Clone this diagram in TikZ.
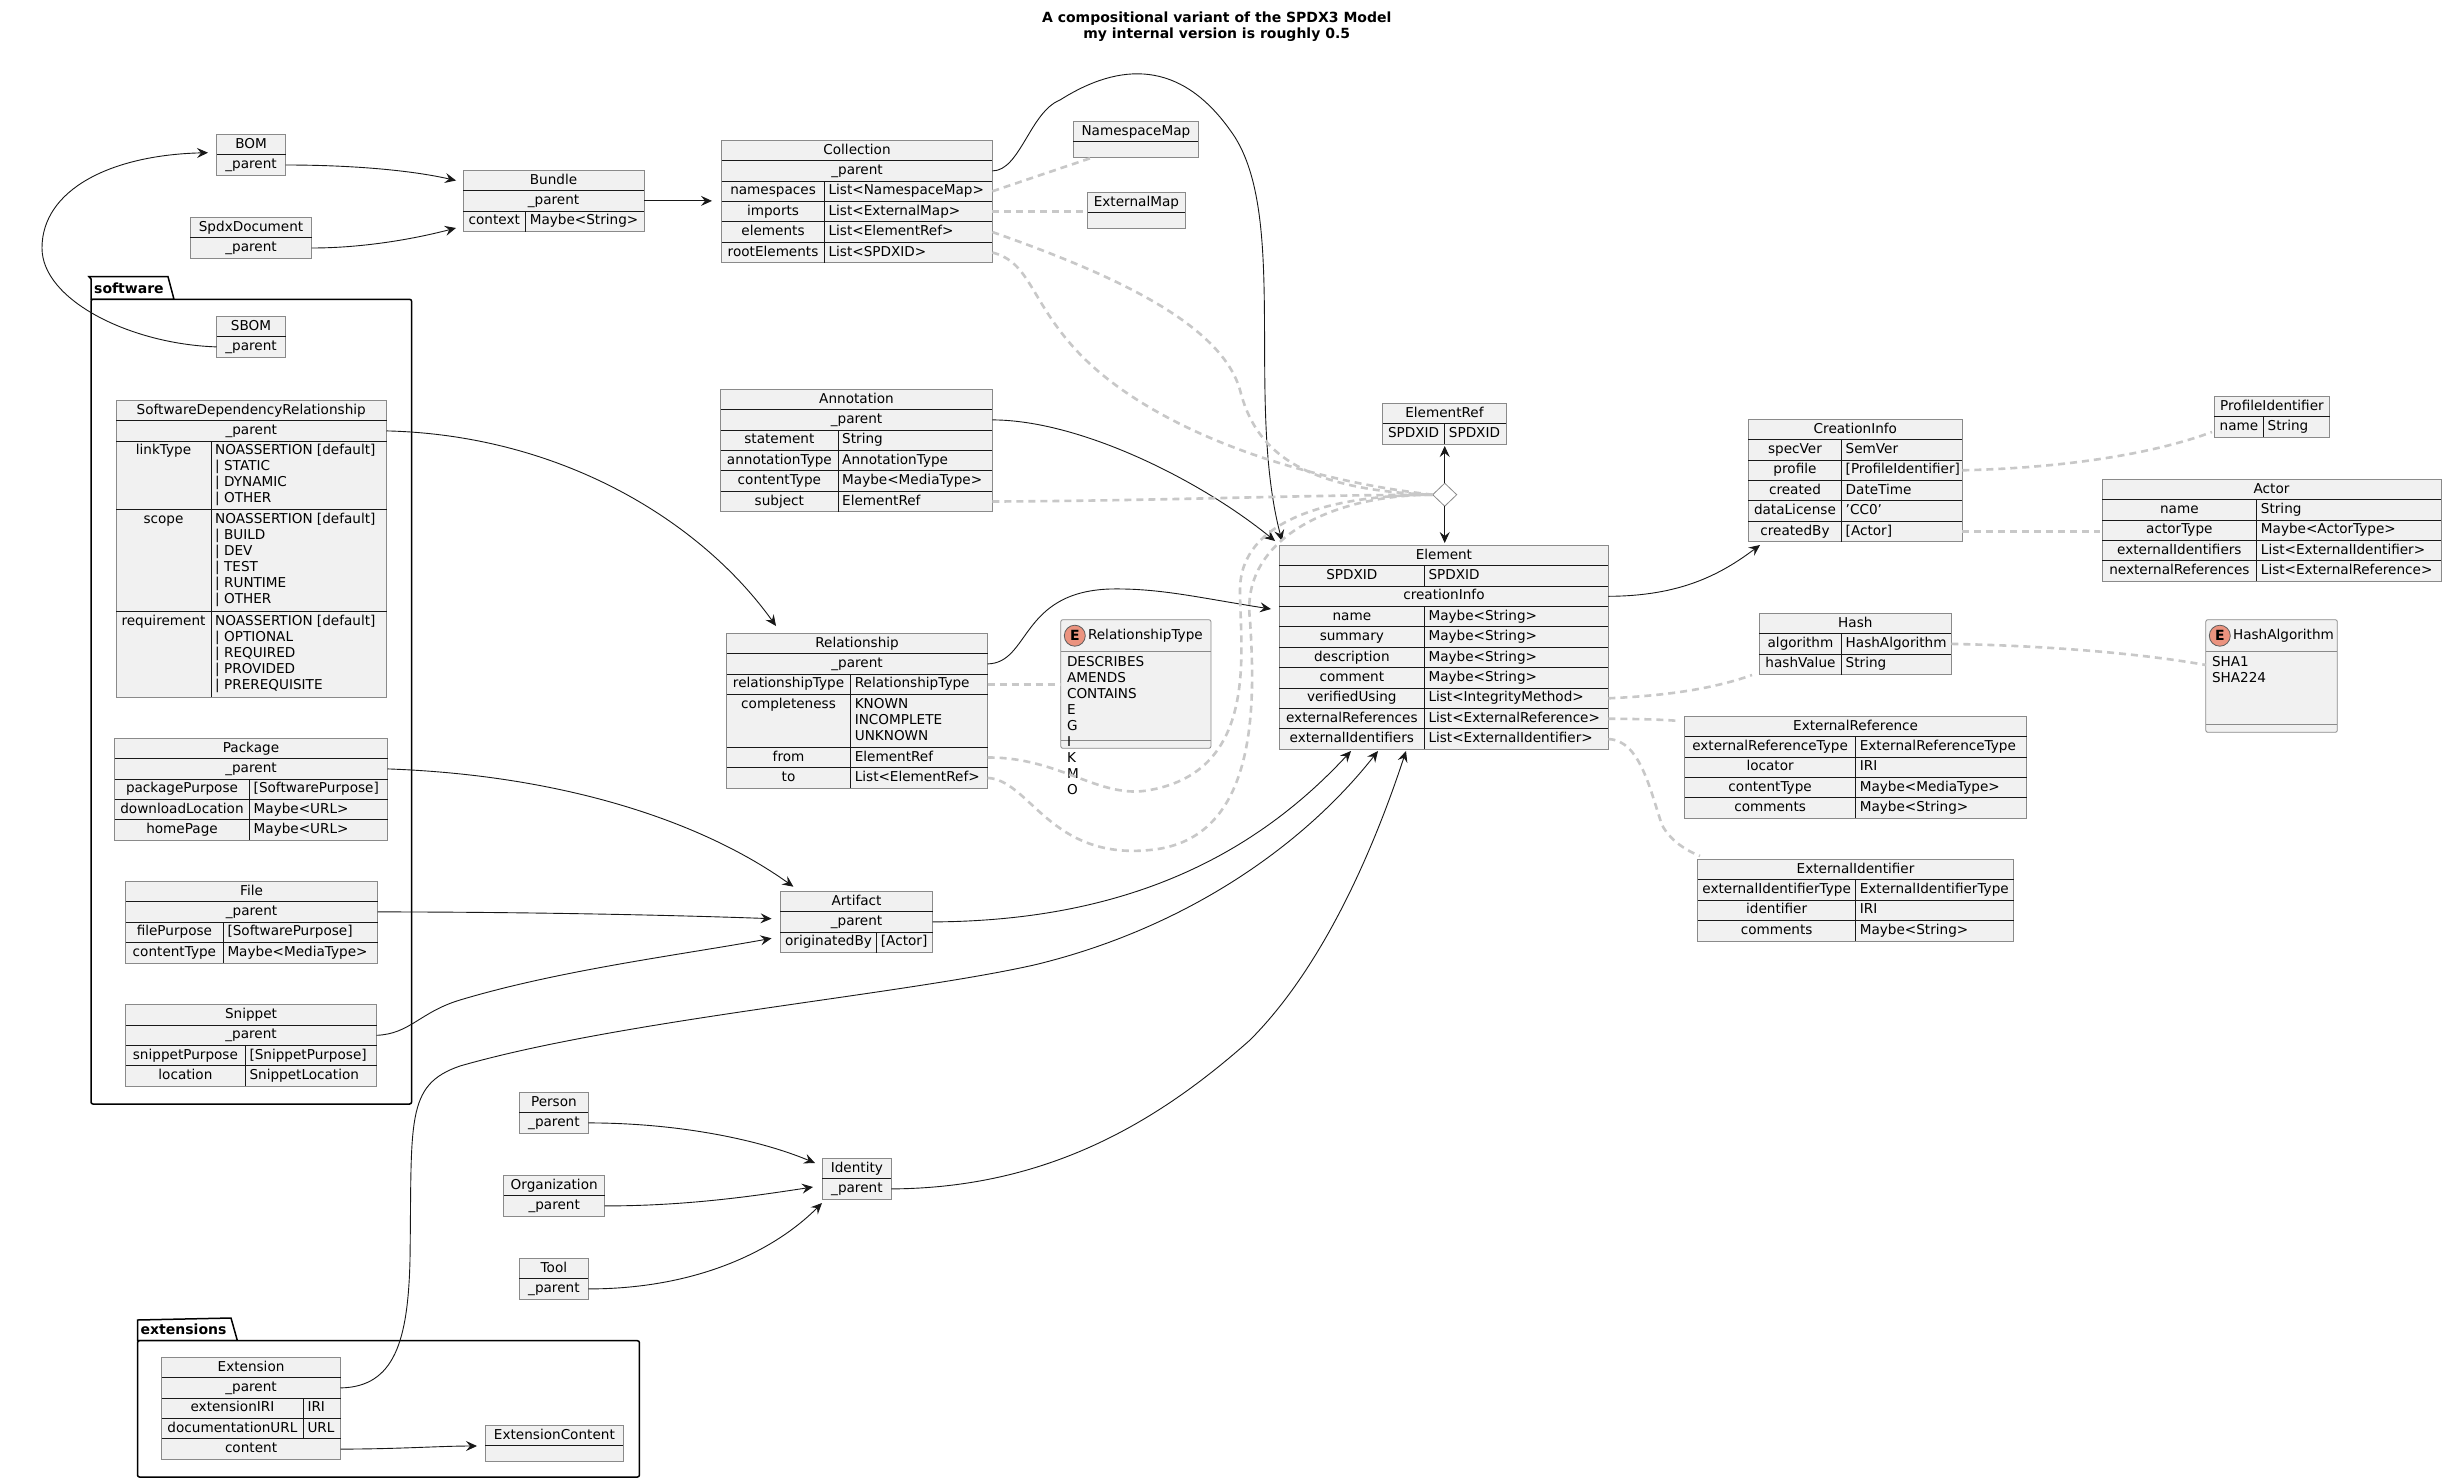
\documentclass[tikz,border=0pt]{standalone}
\usepackage{fontspec}
\setmainfont{DejaVu Sans}
\usetikzlibrary{arrows.meta,calc}
\definecolor{boxfill}{HTML}{F1F1F1}
\definecolor{bordergray}{HTML}{8A8A8A}
\definecolor{sepc}{HTML}{181818}
\definecolor{linec}{HTML}{181818}
\definecolor{depc}{HTML}{C8C8C8}
\definecolor{enumc}{HTML}{EB937F}
\newcommand\fs{\fontsize{13.6}{16}\selectfont}
\def\RH{20.4}
\tikzset{
 box/.style={draw=bordergray, fill=boxfill, line width=0.8pt, inner sep=0pt, outer sep=0pt, anchor=north west},
 sep/.style={draw=sepc, line width=0.9pt},
 txt/.style={inner sep=0pt, font=\fs, text=black, text height=10pt, text depth=3pt},
 conn/.style={draw=linec, line width=0.9pt, -{Stealth[length=11pt,width=10pt,inset=4pt]}},
 dep/.style={draw=depc, line width=2.6pt, dash pattern=on 7pt off 5pt},
 pkg/.style={draw=black, line width=1.5pt, fill=white},
}
% class box with title: name x1 y1 x2 height title
\newcommand\cls[6]{%
 \node[box, minimum width={(#4-#2)*1pt}, minimum height={#5*1pt}] (#1) at (#2,#3) {};
 \node[txt] at ({(#2+#4)/2},{#3+\RH/2}) {#6};}
% spanning row: x1 x2 ytop text
\newcommand\prow[4]{\draw[sep] (#1,#3) -- (#2,#3);
 \node[txt] at ({(#1+#2)/2},{#3+\RH/2}) {#4};}
% two-column row: x1 xd x2 ytop left right
\newcommand\frow[6]{\draw[sep] (#1,#4) -- (#3,#4); \draw[sep] (#2,#4) -- (#2,{#4+\RH});
 \node[txt] at ({(#1+#2)/2},{#4+\RH/2}) {#5};
 \node[txt,anchor=west] at ({#2+4},{#4+\RH/2}) {#6};}
% multi-line row: x1 xd x2 ytop ybottom left {lines}
\newcommand\mrow[7]{\draw[sep] (#1,#4) -- (#3,#4); \draw[sep] (#2,#4) -- (#2,#5);
 \node[txt] at ({(#1+#2)/2},{#4+10.3}) {#6};
 \foreach \t [count=\i from 0] in {#7} {\node[txt,anchor=west] at ({#2+4},{#4+10.3+16*\i}) {\t};}}
% enum: name x1 y1 x2 y2 title {items} ylast
\newcommand\enm[8]{%
 \node[box, rounded corners=2pt, minimum width={(#4-#2)*1pt}, minimum height={(#5-#3)*1pt}] (#1) at (#2,#3) {};
 \draw[draw=sepc!70, fill=enumc, line width=0.8pt] ({#2+14},{#3+16}) circle (10.5pt);
 \node[inner sep=0pt, font=\fontsize{14}{16}\bfseries\selectfont] at ({#2+14},{#3+16}) {E};
 \node[txt,anchor=west] at ({#2+27},{#3+16}) {#6};
 \draw[draw=bordergray, line width=0.8pt] (#2,{#3+31.6}) -- (#4,{#3+31.6});
 \draw[draw=bordergray, line width=0.8pt] (#2,#8) -- (#4,#8);
 \foreach \t [count=\i from 0] in {#7} {\node[txt,anchor=west] at ({#2+6},{#3+43.6+16*\i}) {\t};}}
\begin{document}
\begin{tikzpicture}[x=1pt,y=-1pt]
\useasboundingbox (0,0) rectangle (2446,1483);
\fill[white] (0,0) rectangle (2446,1483);
\node[inner sep=0pt, font=\fontsize{14}{16}\bfseries\selectfont] (t1) at (1216.7,18.3) {A compositional variant of the SPDX3 Model};
\node[inner sep=0pt, font=\fontsize{14}{16}\bfseries\selectfont] (t2) at (1216.7,34.3) {my internal version is roughly 0.5};

% packages
\draw[pkg] (91,299.3) -- (91,279) -- ([xshift=-2pt]91,276.7) -- (168,276.7) -- (174,299.3) -- cycle;
\draw[pkg, rounded corners=2pt] (91,299.3) rectangle (411.6,1104);
\node[inner sep=0pt, anchor=west, font=\fontsize{14}{16}\bfseries\selectfont] (pkgsw) at (94,288.5) {software};
\draw[pkg] (137.5,1340.7) -- (137.5,1320) -- (231,1318) -- (237.4,1340.7) -- cycle;
\draw[pkg, rounded corners=2pt] (137.5,1340.7) rectangle (639.4,1477);
\node[inner sep=0pt, anchor=west, font=\fontsize{14}{16}\bfseries\selectfont] (pkgext) at (140.5,1329.5) {extensions};

% classes
\cls{bom}{216.5}{134.3}{285.6}{40.8}{BOM}\prow{216.5}{285.6}{154.7}{\_parent}
\cls{spdx}{190.4}{217.3}{311.7}{40.8}{SpdxDocument}\prow{190.4}{311.7}{237.7}{\_parent}
\cls{bundle}{463}{170.3}{644}{61.2}{Bundle}\prow{463}{644}{190.7}{\_parent}\frow{463}{525.6}{644}{211.1}{context}{Maybe<String>}
\cls{coll}{721.7}{140.3}{992.3}{122.4}{Collection}\prow{721.7}{992.3}{160.7}{\_parent}
\frow{721.7}{824.4}{992.3}{181.1}{namespaces}{List<NamespaceMap>}
\frow{721.7}{824.4}{992.3}{201.5}{imports}{List<ExternalMap>}
\frow{721.7}{824.4}{992.3}{221.9}{elements}{List<ElementRef>}
\frow{721.7}{824.4}{992.3}{242.3}{rootElements}{List<SPDXID>}
\cls{nsmap}{1073.4}{121.3}{1198.4}{36}{NamespaceMap}\draw[sep] (1073.4,141.7) -- (1198.4,141.7);
\cls{extmap}{1087.5}{192.3}{1185.3}{36}{ExternalMap}\draw[sep] (1087.5,212.7) -- (1185.3,212.7);
\cls{annot}{720.7}{389.3}{992.3}{122.4}{Annotation}\prow{720.7}{992.3}{409.7}{\_parent}
\frow{720.7}{838}{992.3}{430.1}{statement}{String}
\frow{720.7}{838}{992.3}{450.5}{annotationType}{AnnotationType}
\frow{720.7}{838}{992.3}{470.9}{contentType}{Maybe<MediaType>}
\frow{720.7}{838}{992.3}{491.3}{subject}{ElementRef}
\cls{eref}{1382.5}{403.3}{1506.4}{40.8}{ElementRef}\frow{1382.5}{1444.7}{1506.4}{423.7}{SPDXID}{SPDXID}
\node[draw=bordergray, fill=white, line width=0.8pt, shape=coordinate] (dia) at (1444.7,494.7) {};
\draw[draw=bordergray, fill=white, line width=0.8pt] (1432.7,494.7) -- (1444.7,483.2) -- (1456.7,494.7) -- (1444.7,506.2) -- cycle;
\coordinate (diaT) at (1444.7,483.2); \coordinate (diaB) at (1444.7,506.2); \coordinate (diaL) at (1432.7,494.7);
\cls{elem}{1279.4}{545.3}{1608.4}{204}{Element}
\frow{1279.4}{1424.3}{1608.4}{565.7}{SPDXID}{SPDXID}
\prow{1279.4}{1608.4}{586.1}{creationInfo}
\frow{1279.4}{1424.3}{1608.4}{606.5}{name}{Maybe<String>}
\frow{1279.4}{1424.3}{1608.4}{626.9}{summary}{Maybe<String>}
\frow{1279.4}{1424.3}{1608.4}{647.3}{description}{Maybe<String>}
\frow{1279.4}{1424.3}{1608.4}{667.7}{comment}{Maybe<String>}
\frow{1279.4}{1424.3}{1608.4}{688.1}{verifiedUsing}{List<IntegrityMethod>}
\frow{1279.4}{1424.3}{1608.4}{708.5}{externalReferences}{List<ExternalReference>}
\frow{1279.4}{1424.3}{1608.4}{728.9}{externalIdentifiers}{List<ExternalIdentifier>}
\cls{cinfo}{1748.4}{419.3}{1962.3}{122.4}{CreationInfo}
\frow{1748.4}{1841.5}{1962.3}{439.7}{specVer}{SemVer}
\frow{1748.4}{1841.5}{1962.3}{460.1}{profile}{[ProfileIdentifier]}
\frow{1748.4}{1841.5}{1962.3}{480.5}{created}{DateTime}
\frow{1748.4}{1841.5}{1962.3}{500.9}{dataLicense}{'CC0'}
\frow{1748.4}{1841.5}{1962.3}{521.3}{createdBy}{[Actor]}
\cls{profid}{2214.4}{396.3}{2329.5}{40.8}{ProfileIdentifier}\frow{2214.4}{2263.5}{2329.5}{416.7}{name}{String}
\cls{actor}{2102}{479.3}{2441}{102}{Actor}
\frow{2102}{2256.7}{2441}{499.7}{name}{String}
\frow{2102}{2256.7}{2441}{520.1}{actorType}{Maybe<ActorType>}
\frow{2102}{2256.7}{2441}{540.5}{externalIdentifiers}{List<ExternalIdentifier>}
\frow{2102}{2256.7}{2441}{560.9}{nexternalReferences}{List<ExternalReference>}
\cls{hash}{1759.4}{613.3}{1951.3}{61.2}{Hash}
\frow{1759.4}{1841.5}{1951.3}{633.7}{algorithm}{HashAlgorithm}
\frow{1759.4}{1841.5}{1951.3}{654.1}{hashValue}{String}
\enm{halg}{2205.8}{619.7}{2337.3}{732.3}{HashAlgorithm}{SHA1,SHA224,...,BLAKE3}{724}
\cls{extref}{1684.6}{716.3}{2026.6}{102}{ExternalReference}
\frow{1684.6}{1855.6}{2026.6}{736.7}{externalReferenceType}{ExternalReferenceType}
\frow{1684.6}{1855.6}{2026.6}{757.1}{locator}{IRI}
\frow{1684.6}{1855.6}{2026.6}{777.5}{contentType}{Maybe<MediaType>}
\frow{1684.6}{1855.6}{2026.6}{797.9}{comments}{Maybe<String>}
\cls{extid}{1697.6}{859.3}{2013.5}{81.6}{ExternalIdentifier}
\frow{1697.6}{1855.6}{2013.5}{879.7}{externalIdentifierType}{ExternalIdentifierType}
\frow{1697.6}{1855.6}{2013.5}{900.1}{identifier}{IRI}
\frow{1697.6}{1855.6}{2013.5}{920.5}{comments}{Maybe<String>}
\cls{rel}{726.5}{633.3}{987.6}{154.8}{Relationship}\prow{726.5}{987.6}{653.7}{\_parent}
\frow{726.5}{850.6}{987.6}{674.1}{relationshipType}{RelationshipType}
\mrow{726.5}{850.6}{987.6}{694.5}{747.3}{completeness}{KNOWN,INCOMPLETE,UNKNOWN}
\frow{726.5}{850.6}{987.6}{747.3}{from}{ElementRef}
\frow{726.5}{850.6}{987.6}{767.7}{to}{List<ElementRef>}
\enm{rtype}{1060.8}{619.7}{1210.9}{748.3}{RelationshipType}{DESCRIBES,AMENDS,CONTAINS,...,OTHER}{740.3}
\cls{artifact}{780.3}{891.3}{932.7}{61.2}{Artifact}\prow{780.3}{932.7}{911.7}{\_parent}
\frow{780.3}{876.7}{932.7}{932.1}{originatedBy}{[Actor]}
\cls{sbom}{216.5}{316.3}{285.6}{40.8}{SBOM}\prow{216.5}{285.6}{336.7}{\_parent}
\cls{sdr}{116}{400.3}{386.5}{297}{SoftwareDependencyRelationship}\prow{116}{386.5}{420.7}{\_parent}
\mrow{116}{211}{386.5}{441.1}{509.3}{linkType}{NOASSERTION [default],| STATIC,| DYNAMIC,| OTHER}
\mrow{116}{211}{386.5}{509.3}{611.3}{scope}{NOASSERTION [default],| BUILD,| DEV,| TEST,| RUNTIME,| OTHER}
\mrow{116}{211}{386.5}{611.3}{697.3}{requirement}{NOASSERTION [default],| OPTIONAL,| REQUIRED,| PROVIDED,| PREREQUISITE}
\cls{package}{114.5}{738.3}{387.5}{102}{Package}\prow{114.5}{387.5}{758.7}{\_parent}
\frow{114.5}{249.5}{387.5}{779.1}{packagePurpose}{[SoftwarePurpose]}
\frow{114.5}{249.5}{387.5}{799.5}{downloadLocation}{Maybe<URL>}
\frow{114.5}{249.5}{387.5}{819.9}{homePage}{Maybe<URL>}
\cls{file}{125.5}{881.3}{377.6}{81.6}{File}\prow{125.5}{377.6}{901.7}{\_parent}
\frow{125.5}{223.3}{377.6}{922.1}{filePurpose}{[SoftwarePurpose]}
\frow{125.5}{223.3}{377.6}{942.5}{contentType}{Maybe<MediaType>}
\cls{snippet}{125.5}{1004.7}{376.6}{81.6}{Snippet}\prow{125.5}{376.6}{1025.1}{\_parent}
\frow{125.5}{245.3}{376.6}{1045.5}{snippetPurpose}{[SnippetPurpose]}
\frow{125.5}{245.3}{376.6}{1065.9}{location}{SnippetLocation}
\cls{person}{519.4}{1092.3}{588.4}{40.8}{Person}\prow{519.4}{588.4}{1112.7}{\_parent}
\cls{org}{503.7}{1175.3}{604.7}{40.8}{Organization}\prow{503.7}{604.7}{1195.7}{\_parent}
\cls{tool}{519.4}{1258.3}{588.4}{40.8}{Tool}\prow{519.4}{588.4}{1278.7}{\_parent}
\cls{ident}{822.4}{1158.3}{891.4}{40.8}{Identity}\prow{822.4}{891.4}{1178.7}{\_parent}
\cls{ext}{161.6}{1357.3}{340.5}{102}{Extension}\prow{161.6}{340.5}{1377.7}{\_parent}
\frow{161.6}{303.3}{340.5}{1398.1}{extensionIRI}{IRI}
\frow{161.6}{303.3}{340.5}{1418.5}{documentationURL}{URL}
\prow{161.6}{340.5}{1438.9}{content}
\cls{extc}{485.4}{1425.3}{623.4}{36}{ExtensionContent}\draw[sep] (485.4,1445.7) -- (623.4,1445.7);

% ports
\coordinate (bomP) at (285.6,165); \coordinate (bomIn) at (208,152.7);
\coordinate (spdxP) at (311.7,248); \coordinate (sbomP) at (216.5,346.9);
\coordinate (bunIn1) at (456,180.5); \coordinate (bunIn2) at (456,228);
\coordinate (bunP) at (644,200.9); \coordinate (collIn) at (712,200.9);
\coordinate (collP) at (992.3,170.9); \coordinate (annP) at (992.3,419.9);
\coordinate (relP) at (987.6,663.9); \coordinate (relIn) at (776,626);
\coordinate (sdrP) at (386.5,430.9); \coordinate (pkgP) at (387.5,768.9);
\coordinate (fileP) at (377.6,911.9); \coordinate (snipP) at (376.6,1035.3);
\coordinate (artIn1) at (793.4,886.7); \coordinate (artIn2) at (771.5,918.7); \coordinate (artIn3) at (771.5,938.3);
\coordinate (artP) at (932.7,921.9); \coordinate (extP) at (340.5,1387.9); \coordinate (extCont) at (340.5,1449.1);
\coordinate (idP) at (891.4,1188.9); \coordinate (perP) at (588.4,1122.9); \coordinate (orgP) at (604.7,1205.9); \coordinate (toolP) at (588.4,1288.9);
\coordinate (idIn1) at (815,1163); \coordinate (idIn2) at (813,1187); \coordinate (idIn3) at (822,1203);
\coordinate (elB1) at (1351,751); \coordinate (elB2) at (1378,751); \coordinate (elB3) at (1406,751);
\coordinate (elT1) at (1282,541); \coordinate (elT2) at (1275,541); \coordinate (elL) at (1271,609);
\coordinate (elCI) at (1608.4,596.3); \coordinate (ciIn) at (1760,545);

% solid connectors
\draw[conn] (bomP) .. controls (350,165) and (410,170) .. (bunIn1);
\draw[conn] (spdxP) .. controls (360,248) and (410,240) .. (bunIn2);
\draw[conn] (bunP) -- (collIn);
\draw[conn] (sbomP) .. controls (130,344) and (42,300) .. (42,248) .. controls (42,190) and (110,155) .. (bomIn);
\draw[conn] (collP) .. controls (1020,171) and (1030,112) .. (1060,100) .. controls (1120,62) and (1180,60) .. (1230,130) .. controls (1290,210) and (1245,400) .. (elT1);
\draw[conn] (annP) .. controls (1080,420) and (1200,480) .. (elT2);
\draw[conn] (relP) .. controls (1030,663) and (1020,592) .. (1110,589) .. controls (1160,588) and (1200,598) .. (elL);
\draw[conn] (sdrP) .. controls (560,435) and (700,520) .. (relIn);
\draw[conn] (pkgP) .. controls (560,775) and (700,820) .. (artIn1);
\draw[conn] (fileP) .. controls (550,912) and (700,916) .. (artIn2);
\draw[conn] (snipP) .. controls (410,1034) and (420,1012) .. (460,1000) .. controls (560,970) and (680,955) .. (artIn3);
\draw[conn] (artP) .. controls (1120,921) and (1250,860) .. (elB1);
\draw[conn] (extP) .. controls (395,1387) and (408,1340) .. (410,1260) .. controls (412,1120) and (405,1085) .. (460,1066) .. controls (620,1020) and (900,995) .. (1034,965) .. controls (1180,930) and (1300,850) .. (elB2);
\draw[conn] (idP) .. controls (1050,1188) and (1160,1120) .. (1250,1040) .. controls (1330,960) and (1380,830) .. (elB3);
\draw[conn] (perP) .. controls (680,1123) and (760,1140) .. (idIn1);
\draw[conn] (orgP) .. controls (690,1206) and (760,1195) .. (idIn2);
\draw[conn] (toolP) .. controls (690,1289) and (770,1255) .. (idIn3);
\draw[conn] (extCont) .. controls (400,1449) and (440,1446) .. (477,1446);
\draw[conn] (elCI) .. controls (1680,596) and (1720,575) .. (ciIn);
\draw[conn] (diaT) -- (1444.7,446);
\draw[conn] (diaB) -- (1444.7,543);

% dependency (dashed) connectors
\draw[dep] (992.3,191.3) -- (1093,157.3);
\draw[dep] (992.3,211.7) -- (1087.5,211.7);
\draw[dep] (992.3,232) .. controls (1100,270) and (1220,320) .. (1240,390) .. controls (1255,450) and (1300,490) .. (diaL);
\draw[dep] (992.3,252.5) .. controls (1030,262) and (1030,300) .. (1076,350) .. controls (1150,430) and (1300,480) .. (diaL);
\draw[dep] (992.3,501.5) .. controls (1150,501) and (1300,495) .. (diaL);
\draw[dep] (987.6,757.5) .. controls (1060,757) and (1100,800) .. (1150,790) .. controls (1260,770) and (1240,650) .. (1240,590) .. controls (1240,520) and (1330,495) .. (diaL);
\draw[dep] (987.6,777.9) .. controls (1030,780) and (1050,860) .. (1150,850) .. controls (1260,840) and (1255,700) .. (1250,620) .. controls (1240,540) and (1330,495) .. (diaL);
\draw[dep] (987.6,684.3) -- (1060.8,684.3);
\draw[dep] (1608.4,698.3) .. controls (1660,696) and (1710,690) .. (1752,675);
\draw[dep] (1608.4,718.7) .. controls (1630,719) and (1655,719) .. (1680,721);
\draw[dep] (1608.4,739.1) .. controls (1640,740) and (1650,790) .. (1662,825) .. controls (1670,840) and (1685,850) .. (1700,856);
\draw[dep] (1962.3,470.3) .. controls (2060,468) and (2150,455) .. (2212,432);
\draw[dep] (1962.3,531.5) -- (2100,531.5);
\draw[dep] (1951.3,643.9) .. controls (2060,646) and (2150,655) .. (2205.8,665);
\end{tikzpicture}
\end{document}
